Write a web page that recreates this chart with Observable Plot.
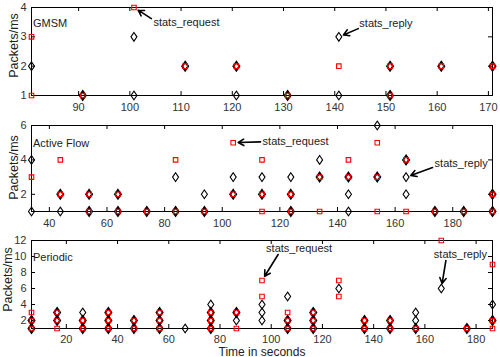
<!DOCTYPE html>
<html><head><meta charset="utf-8">
<script src="https://cdn.jsdelivr.net/npm/d3@7"></script>
<script src="https://cdn.jsdelivr.net/npm/@observablehq/plot@0.6"></script>
<style>
body{margin:0;background:#fff;}
#chart svg{display:block;}
</style></head><body><div id="chart"></div>
<script>
// ---- Panel 1: GMSM ----
const gmsmTimes = [80.8, 90.8, 100.8, 110.8, 120.8, 130.8, 140.8, 150.8, 160.8, 170.8];
const gmsmRequest = [[3,1],[1],[4],[2],[2],[1],[2],[2,1],[2],[2]];
const gmsmReply   = [[2],[1],[3,1],[2],[2,1],[1],[3,1],[2,1],[2],[2]];
const gmsmXTicks = [90,100,110,120,130,140,150,160,170];
const gmsmYTicks = [1,2,3,4];
const gmsmNotes = [
  {label:"stats_request", tx:104.6, ty:3.49, ax:104.2, ay:3.62, px:100.8, py:4},
  {label:"stats_reply",   tx:144.8, ty:3.45, ax:144.6, ay:3.28, px:140.8, py:3}
];

// ---- Panel 2: Active Flow ----
const activeTimes = [33.8,43.8,53.8,63.8,73.8,83.8,93.8,103.8,113.8,123.8,133.8,143.8,153.8,163.8,173.8,183.8,193.8];
const activeRequest = [[3],[4,2],[2,1],[2,1],[1],[4,1],[1],[5,2],[4,2,1],[2,1],[3,1],[4,3],[5,3,1],[4,1],[1],[1],[2,1]];
const activeReply   = [[4,1],[2,1],[2,1],[2,1],[1],[3,1],[2,1],[3,2],[3,2],[3,2,1],[4,3],[3,2,1],[6,3],[4,3,2],[1],[1],[2,1]];
const activeXTicks = [40,60,80,100,120,140,160,180];
const activeYTicks = [2,4,6];
const activeNotes = [
  {label:"stats_request", tx:114.0, ty:5.07, ax:113.3, ay:5.05, px:103.8, py:5},
  {label:"stats_reply",   tx:173.7, ty:3.79, ax:173.0, ay:3.56, px:163.8, py:3}
];

// ---- Panel 3: Periodic ----
const periodicTimes = [6.4,16.4,26.4,36.4,46.4,56.4,66.4,76.4,86.4,96.4,106.4,116.4,126.4,136.4,146.4,156.4,166.4,176.4,186.4];
const periodicRequest = [[3,2,1],[3,2,1],[2,1],[3,2,1],[2,1],[3,2,1],[],[3,2,1],[3,1],[7,5],[3,2,1],[3,2,1],[7,5],[2,1],[2,1],[1],[12],[1],[9,2,1]];
const periodicReply   = [[2,1],[3,2],[3,2,1],[3,2,1],[2,1],[3,2,1],[1],[4,3,2,1],[3,2],[4,3,2],[5,2,1],[3,2,1],[6],[2,1],[2,1],[3,2,1],[6],[1],[4,2]];
const periodicXTicks = [20,40,60,80,100,120,140,160,180];
const periodicYTicks = [2,4,6,8,10,12];
const periodicNotes = [
  {label:"stats_request", tx:98.0,  ty:11.0,  ax:102.7, ay:10.25, px:96.4,  py:7},
  {label:"stats_reply",   tx:163.5, ty:10.25, ax:168.2, ay:9.5,   px:166.4, py:6}
];

const FONT = "'Liberation Sans', Arial, Helvetica, sans-serif";
const diamond = {
  draw(ctx, size) {
    const r = Math.sqrt(size / Math.PI);
    const w = r, h = r * 1.45;
    ctx.moveTo(0, -h); ctx.lineTo(w, 0); ctx.lineTo(0, h); ctx.lineTo(-w, 0); ctx.closePath();
  }
};
const flat = (times, vals) => times.flatMap((t, i) => vals[i].map(v => ({t, v})));

function panel(o) {
  const ML = 31, MR = 8, W = 500;
  const H = o.height - o.mt - o.mb;
  const FW = W - ML - MR;
  const req = flat(o.times, o.request);
  const rep = flat(o.times, o.reply);
  const reqKeys = new Set(req.map(d => d.t + "|" + d.v));
  const repBold = rep.filter(d => reqKeys.has(d.t + "|" + d.v));
  const repThin = rep.filter(d => !reqKeys.has(d.t + "|" + d.v));
  const TL = 4;
  const marks = [
    Plot.frame({stroke: "black", strokeWidth: 1}),
    Plot.tickX(o.xt, {x: d => d, insetTop: H - TL, stroke: "black"}),
    Plot.tickX(o.xt, {x: d => d, insetBottom: H - TL, stroke: "black"}),
    Plot.tickY(o.yt, {y: d => d, insetRight: FW - TL, stroke: "black"}),
    Plot.tickY(o.yt, {y: d => d, insetLeft: FW - TL, stroke: "black"}),
    Plot.axisX(o.xt, {tickSize: 0, tickPadding: o.xpad, label: null, fontSize: 11, fill: "#333", tickFormat: d => d}),
    Plot.axisY(o.yt, {tickSize: 0, tickPadding: 5, label: null, fontSize: 11, fill: "#333", tickFormat: d => d}),
    Plot.text([o.label], {frameAnchor: "top-left", textAnchor: "start", lineAnchor: "middle", dx: 1.5, dy: o.labelDy, fontSize: 11, fill: "#222"}),
    Plot.text(["Packets/ms"], {frameAnchor: "left", textAnchor: "middle", rotate: -90, lineAnchor: "bottom", dx: o.ylabDx, dy: o.ylabDy, fontSize: 12.5, fill: "#222"}),
    Plot.dot(repThin, {x: "t", y: "v", symbol: diamond, r: 3, stroke: "black", fill: "none", strokeWidth: 1.1}),
    Plot.dot(repBold, {x: "t", y: "v", symbol: diamond, r: 3, stroke: "black", fill: "none", strokeWidth: 1.9}),
    Plot.dot(req, {x: "t", y: "v", symbol: "square", r: 2.55, stroke: "#ff0000", fill: "none", strokeWidth: 1.1}),
    Plot.arrow(o.notes, {x1: "ax", y1: "ay", x2: "px", y2: "py", insetEnd: 5, headLength: 6, strokeWidth: 1.6, stroke: "black"}),
    Plot.text(o.notes, {x: "tx", y: "ty", text: "label", textAnchor: "start", lineAnchor: "middle", fontSize: 11, fill: "#222"})
  ];
  if (o.xlabel) marks.push(Plot.text([o.xlabel], {frameAnchor: "bottom", lineAnchor: "bottom", dy: 27, fontSize: 12, fill: "#222"}));
  return Plot.plot({
    width: W, height: o.height,
    marginLeft: ML, marginRight: MR, marginTop: o.mt, marginBottom: o.mb,
    style: {fontFamily: FONT, background: "white", color: "black", overflow: "visible"},
    x: {domain: o.xd}, y: {domain: o.yd},
    marks
  });
}

const chart = document.getElementById("chart");
chart.appendChild(panel({times: gmsmTimes, request: gmsmRequest, reply: gmsmReply, xd: [80.8, 170.8], yd: [1, 4],
  xt: gmsmXTicks, yt: gmsmYTicks, notes: gmsmNotes, label: "GMSM", height: 118, mt: 7, mb: 23, xpad: 8,
  labelDy: 15.5, ylabDx: -14, ylabDy: -6}));
chart.appendChild(panel({times: activeTimes, request: activeRequest, reply: activeReply, xd: [33.8, 193.8], yd: [1, 6],
  xt: activeXTicks, yt: activeYTicks, notes: activeNotes, label: "Active Flow", height: 115, mt: 7, mb: 22, xpad: 8,
  labelDy: 17.7, ylabDx: -14, ylabDy: -1}));
chart.appendChild(panel({times: periodicTimes, request: periodicRequest, reply: periodicReply, xd: [6.4, 186.4], yd: [1, 12],
  xt: periodicXTicks, yt: periodicYTicks, notes: periodicNotes, label: "Periodic", height: 124, mt: 7, mb: 29, xpad: 7,
  labelDy: 16.7, ylabDx: -20, ylabDy: -5, xlabel: "Time in seconds"}));
</script></body></html>
